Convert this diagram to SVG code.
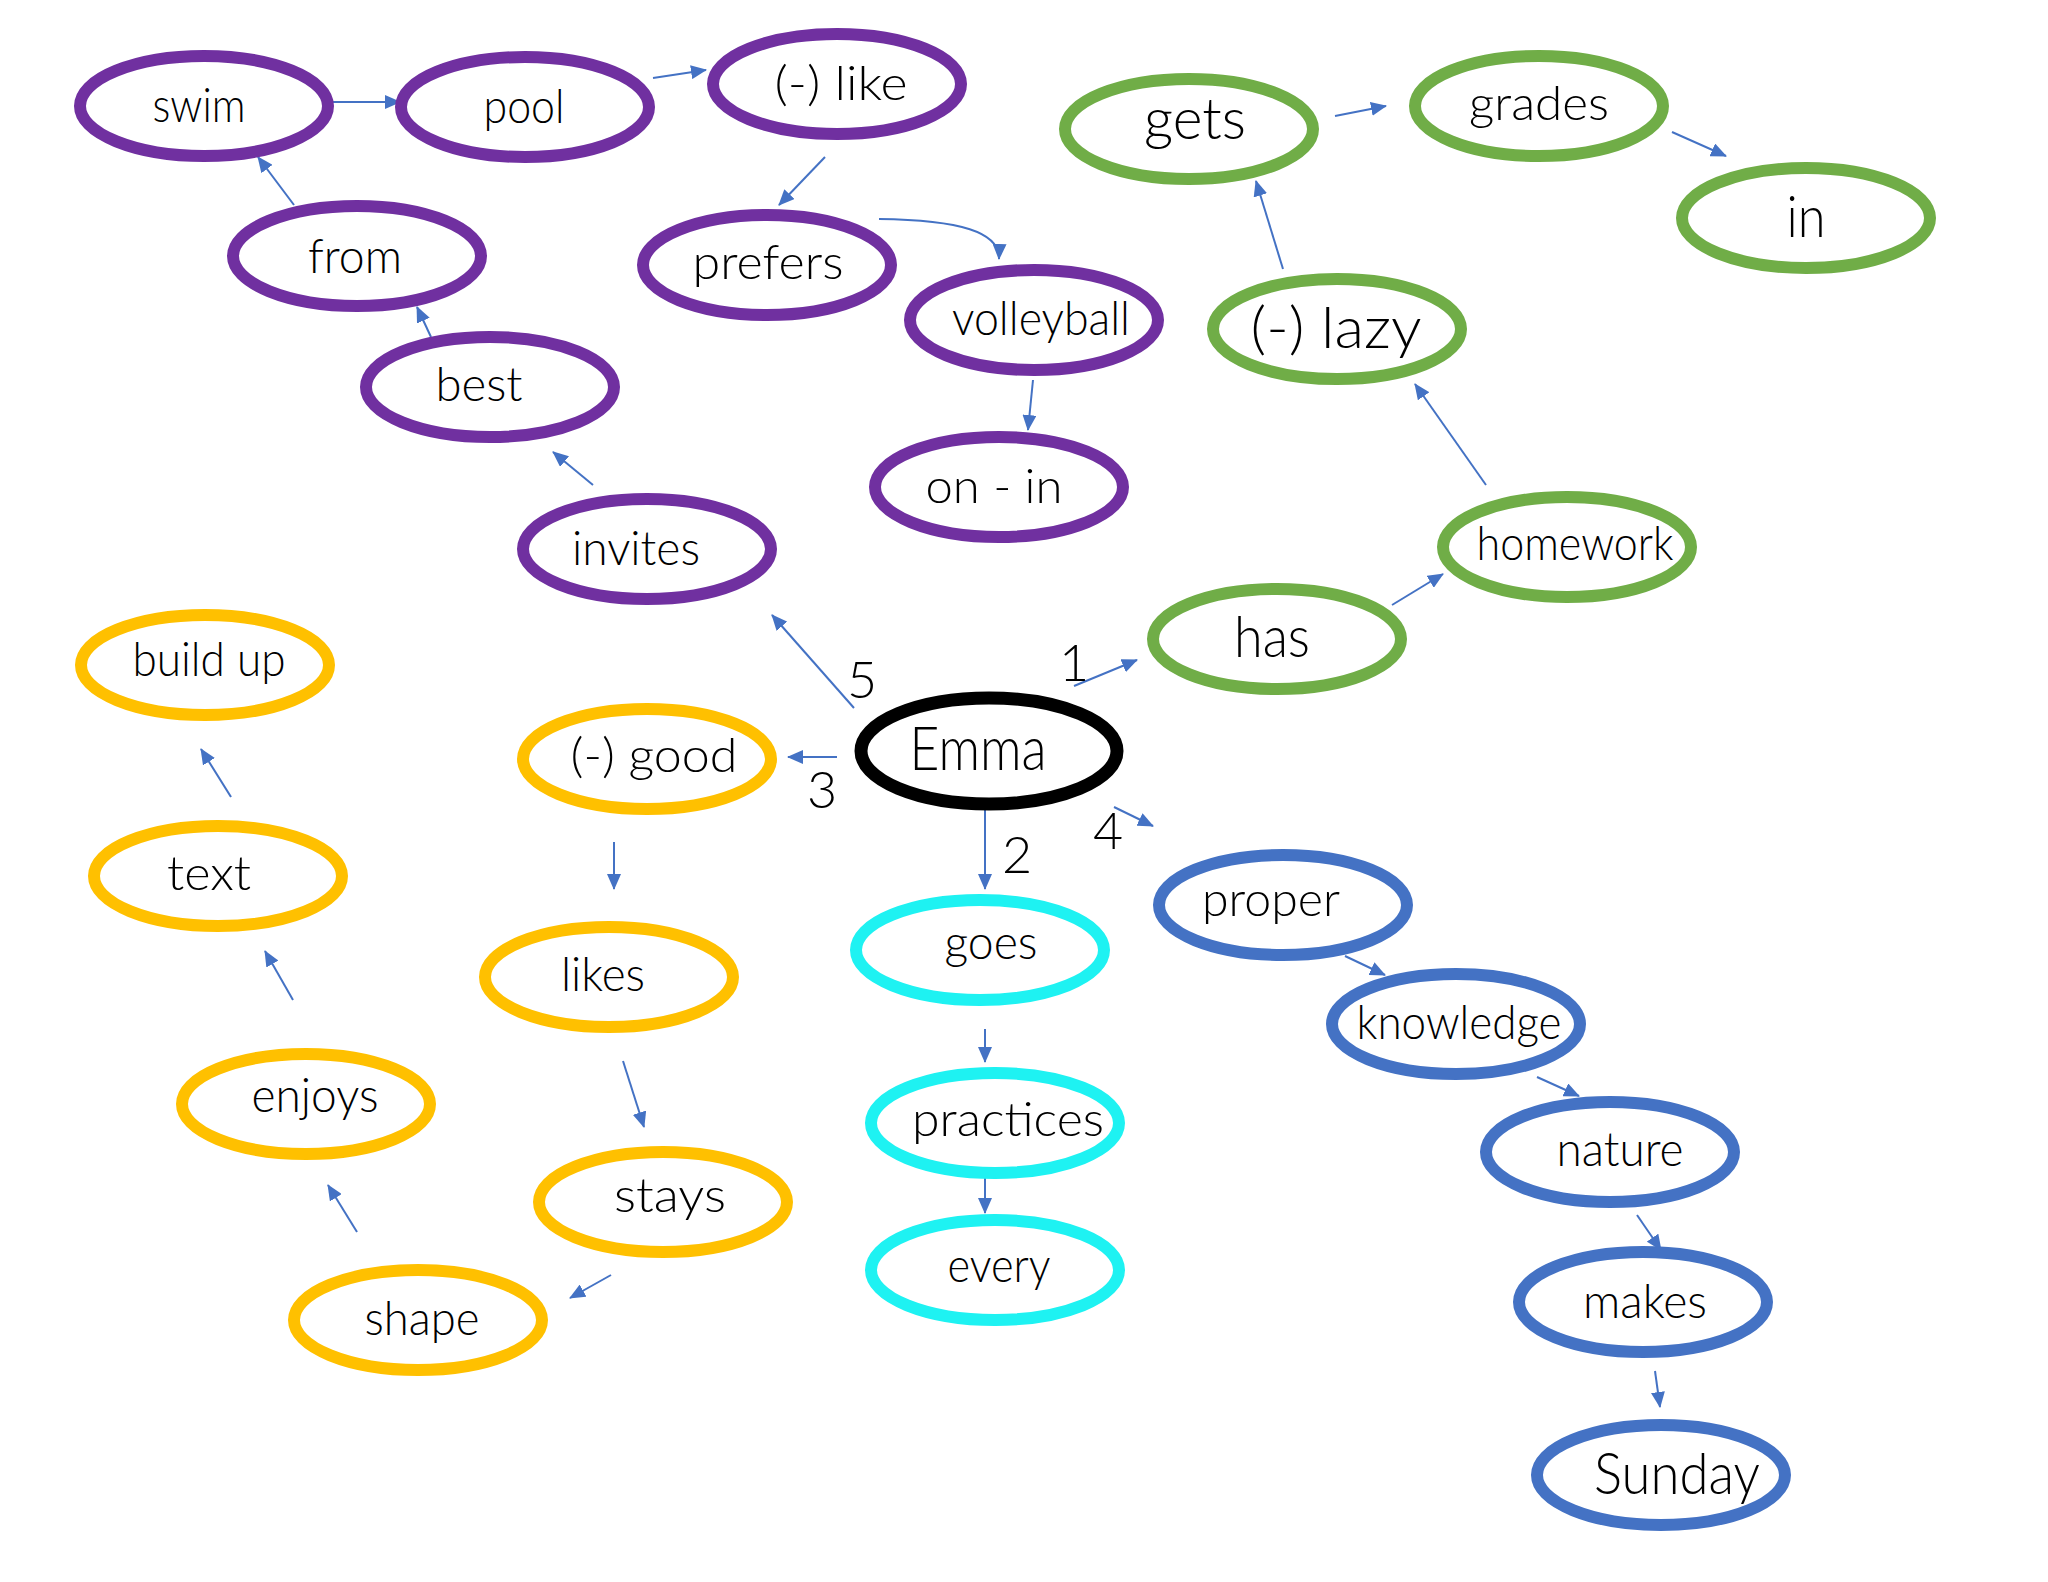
<svg xmlns="http://www.w3.org/2000/svg" width="2048" height="1582" viewBox="0 0 2048 1582">
<style>
.n{fill:#fff;stroke-width:12}
.p{stroke:#7030A0}.g{stroke:#70AD47}.y{stroke:#FFC000}.c{stroke:#1EF2F2}.b{stroke:#4472C4}
.k{stroke:#000;stroke-width:13}
text{font-family:"Lato","Liberation Sans","DejaVu Sans",sans-serif;font-weight:300;font-size:48px;fill:#000;text-anchor:middle}
.L{font-size:58px}
.E{font-size:62px}
.num{font-size:52px}
#edges line,#edges path{stroke:#4472C4;stroke-width:2;fill:none;marker-end:url(#ah)}
</style>
<defs>
<marker id="ah" markerUnits="userSpaceOnUse" markerWidth="16" markerHeight="14" refX="15" refY="7" orient="auto">
<path d="M0,0 L16,7 L0,14 Z" fill="#4472C4"/>
</marker>
</defs>
<rect width="2048" height="1582" fill="#fff"/>
<g id="edges">
<line x1="333" y1="102" x2="400" y2="102"/>
<line x1="653" y1="78" x2="706" y2="70"/>
<line x1="825" y1="157" x2="779" y2="205"/>
<path d="M879,219 C960,220 1000,232 999,259"/>
<line x1="1033" y1="380" x2="1028" y2="430"/>
<line x1="294" y1="205" x2="258" y2="157"/>
<line x1="431" y1="337" x2="417" y2="307"/>
<line x1="593" y1="485" x2="553" y2="452"/>
<line x1="854" y1="708" x2="772" y2="615"/>
<line x1="1074" y1="686" x2="1137" y2="660"/>
<line x1="1392" y1="605" x2="1443" y2="574"/>
<line x1="1486" y1="485" x2="1415" y2="384"/>
<line x1="1283" y1="269" x2="1256" y2="181"/>
<line x1="1335" y1="116" x2="1386" y2="106"/>
<line x1="1672" y1="132" x2="1726" y2="156"/>
<line x1="837" y1="757" x2="788" y2="757"/>
<line x1="985" y1="810" x2="985" y2="889"/>
<line x1="1114" y1="807" x2="1153" y2="826"/>
<line x1="614" y1="842" x2="614" y2="889"/>
<line x1="623" y1="1061" x2="644" y2="1127"/>
<line x1="611" y1="1275" x2="570" y2="1298"/>
<line x1="357" y1="1232" x2="328" y2="1185"/>
<line x1="293" y1="1000" x2="265" y2="951"/>
<line x1="231" y1="797" x2="201" y2="749"/>
<line x1="985" y1="1029" x2="985" y2="1062"/>
<line x1="985" y1="1177" x2="985" y2="1213"/>
<line x1="1345" y1="956" x2="1385" y2="975"/>
<line x1="1537" y1="1077" x2="1579" y2="1096"/>
<line x1="1637" y1="1215" x2="1661" y2="1250"/>
<line x1="1655" y1="1371" x2="1660" y2="1407"/>
</g>
<g id="labels">
<text class="num" x="862" y="698">5</text>
<text class="num" x="1074" y="681">1</text>
<text class="num" x="822" y="808">3</text>
<text class="num" x="1017" y="873">2</text>
<text class="num" x="1108" y="849">4</text>
</g>
<g id="n-swim"><ellipse class="n p" cx="204" cy="106" rx="124" ry="50"/><text x="199" y="122" textLength="93" lengthAdjust="spacingAndGlyphs">swim</text></g>
<g id="n-pool"><ellipse class="n p" cx="525" cy="107" rx="124" ry="50"/><text x="524" y="123" textLength="81" lengthAdjust="spacingAndGlyphs">pool</text></g>
<g id="n-like"><ellipse class="n p" cx="837" cy="84" rx="124" ry="50"/><text x="841" y="100" textLength="133" lengthAdjust="spacingAndGlyphs">(-) like</text></g>
<g id="n-from"><ellipse class="n p" cx="357" cy="256" rx="124" ry="50"/><text x="355" y="273" textLength="94" lengthAdjust="spacingAndGlyphs">from</text></g>
<g id="n-prefers"><ellipse class="n p" cx="767" cy="265" rx="124" ry="50"/><text x="768" y="279" textLength="151" lengthAdjust="spacingAndGlyphs">prefers</text></g>
<g id="n-volleyball"><ellipse class="n p" cx="1034" cy="320" rx="124" ry="50"/><text x="1041" y="335" textLength="178" lengthAdjust="spacingAndGlyphs">volleyball</text></g>
<g id="n-best"><ellipse class="n p" cx="490" cy="387" rx="124" ry="50"/><text x="479" y="401" textLength="87" lengthAdjust="spacingAndGlyphs">best</text></g>
<g id="n-onin"><ellipse class="n p" cx="999" cy="487" rx="124" ry="50"/><text x="994" y="503" textLength="137" lengthAdjust="spacingAndGlyphs">on - in</text></g>
<g id="n-invites"><ellipse class="n p" cx="647" cy="549" rx="124" ry="50"/><text x="636" y="565" textLength="128" lengthAdjust="spacingAndGlyphs">invites</text></g>
<g id="n-gets"><ellipse class="n g" cx="1189" cy="129" rx="124" ry="50"/><text class="L" x="1195" y="139" textLength="102" lengthAdjust="spacingAndGlyphs">gets</text></g>
<g id="n-grades"><ellipse class="n g" cx="1539" cy="106" rx="124" ry="50"/><text x="1539" y="120" textLength="140" lengthAdjust="spacingAndGlyphs">grades</text></g>
<g id="n-in"><ellipse class="n g" cx="1806" cy="218" rx="124" ry="50"/><text class="L" x="1806" y="237" textLength="39" lengthAdjust="spacingAndGlyphs">in</text></g>
<g id="n-lazy"><ellipse class="n g" cx="1337" cy="329" rx="124" ry="50"/><text class="L" x="1336" y="348" textLength="171" lengthAdjust="spacingAndGlyphs">(-) lazy</text></g>
<g id="n-homework"><ellipse class="n g" cx="1567" cy="547" rx="124" ry="50"/><text x="1575" y="560" textLength="197" lengthAdjust="spacingAndGlyphs">homework</text></g>
<g id="n-has"><ellipse class="n g" cx="1277" cy="639" rx="124" ry="50"/><text class="L" x="1272" y="657" textLength="76" lengthAdjust="spacingAndGlyphs">has</text></g>
<g id="n-emma"><ellipse class="n k" cx="989" cy="751" rx="128" ry="53"/><text class="E" x="978" y="770" textLength="137" lengthAdjust="spacingAndGlyphs">Emma</text></g>
<g id="n-good"><ellipse class="n y" cx="647" cy="759" rx="124" ry="50"/><text x="654" y="772" textLength="167" lengthAdjust="spacingAndGlyphs">(-) good</text></g>
<g id="n-buildup"><ellipse class="n y" cx="205" cy="665" rx="124" ry="50"/><text x="209" y="676" textLength="153" lengthAdjust="spacingAndGlyphs">build up</text></g>
<g id="n-text"><ellipse class="n y" cx="218" cy="876" rx="124" ry="50"/><text x="209" y="890" textLength="84" lengthAdjust="spacingAndGlyphs">text</text></g>
<g id="n-likes"><ellipse class="n y" cx="609" cy="977" rx="124" ry="50"/><text x="603" y="991" textLength="84" lengthAdjust="spacingAndGlyphs">likes</text></g>
<g id="n-enjoys"><ellipse class="n y" cx="306" cy="1104" rx="124" ry="50"/><text x="315" y="1112" textLength="127" lengthAdjust="spacingAndGlyphs">enjoys</text></g>
<g id="n-stays"><ellipse class="n y" cx="663" cy="1202" rx="124" ry="50"/><text x="670" y="1212" textLength="112" lengthAdjust="spacingAndGlyphs">stays</text></g>
<g id="n-shape"><ellipse class="n y" cx="418" cy="1320" rx="124" ry="50"/><text x="422" y="1335" textLength="115" lengthAdjust="spacingAndGlyphs">shape</text></g>
<g id="n-goes"><ellipse class="n c" cx="980" cy="950" rx="124" ry="50"/><text x="991" y="959" textLength="93" lengthAdjust="spacingAndGlyphs">goes</text></g>
<g id="n-practices"><ellipse class="n c" cx="995" cy="1123" rx="124" ry="50"/><text x="1008" y="1136" textLength="192" lengthAdjust="spacingAndGlyphs">practices</text></g>
<g id="n-every"><ellipse class="n c" cx="995" cy="1270" rx="124" ry="50"/><text x="999" y="1282" textLength="103" lengthAdjust="spacingAndGlyphs">every</text></g>
<g id="n-proper"><ellipse class="n b" cx="1283" cy="905" rx="124" ry="50"/><text x="1271" y="916" textLength="138" lengthAdjust="spacingAndGlyphs">proper</text></g>
<g id="n-knowledge"><ellipse class="n b" cx="1456" cy="1024" rx="124" ry="50"/><text x="1459" y="1039" textLength="205" lengthAdjust="spacingAndGlyphs">knowledge</text></g>
<g id="n-nature"><ellipse class="n b" cx="1610" cy="1152" rx="124" ry="50"/><text x="1620" y="1166" textLength="127" lengthAdjust="spacingAndGlyphs">nature</text></g>
<g id="n-makes"><ellipse class="n b" cx="1643" cy="1302" rx="124" ry="50"/><text x="1645" y="1318" textLength="124" lengthAdjust="spacingAndGlyphs">makes</text></g>
<g id="n-sunday"><ellipse class="n b" cx="1661" cy="1475" rx="124" ry="50"/><text class="L" x="1677" y="1494" textLength="166" lengthAdjust="spacingAndGlyphs">Sunday</text></g>
</svg>
